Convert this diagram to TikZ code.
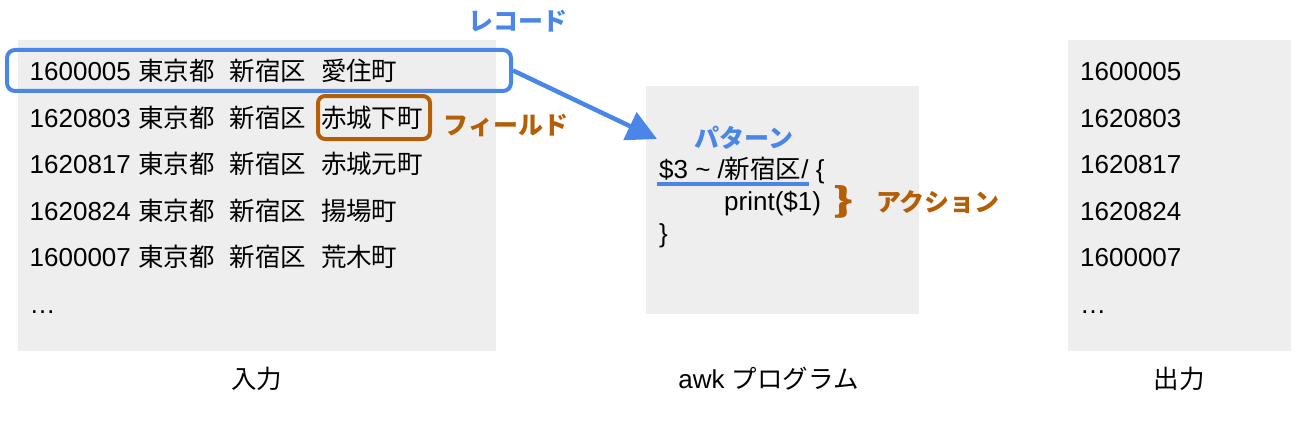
\documentclass[tikz,border=0pt]{standalone}
\usepackage{fontspec}
\setmainfont{Liberation Sans}
\newfontfamily\jp[Scale=0.98]{Noto Sans CJK JP}
\usetikzlibrary{arrows.meta, positioning}
\definecolor{recblue}{RGB}{74,134,232}
\definecolor{fieldbrown}{RGB}{180,95,6}
\definecolor{panelgray}{RGB}{238,238,238}
\newcommand{\ja}[1]{{\jp #1}}
\tikzset{
    panel/.style={rectangle, fill=panelgray, inner sep=0pt},
    rowtext/.style={anchor=base west, inner sep=0pt, font=\fontsize{26}{30}\selectfont},
    caption/.style={inner sep=0pt, font=\fontsize{26}{30}\selectfont},
    tag/.style={inner sep=0pt, font=\jp\bfseries\fontsize{25.5}{30}\selectfont},
    recbox/.style={rectangle, rounded corners=8pt, draw=recblue, line width=4pt, inner sep=0pt},
    fieldbox/.style={rectangle, rounded corners=7pt, draw=fieldbrown, line width=4pt, inner sep=0pt},
    flow/.style={-{Triangle[length=30pt, width=30pt]}, line width=4.5pt, recblue}
}

\begin{document}
\begin{tikzpicture}[x=1pt, y=-1pt]
    \useasboundingbox (0,0) rectangle (1307,436);

    % Panels
    \node[panel, minimum width=478pt, minimum height=311pt] (input) at (257,195.5) {};
    \node[panel, minimum width=273pt, minimum height=228pt] (prog) at (782.5,200) {};
    \node[panel, minimum width=223pt, minimum height=311pt] (output) at (1179.5,195.5) {};

    % Input records and output values
    \foreach \code/\town [count=\i] in {1600005/愛住町, 1620803/赤城下町, 1620817/赤城元町, 1620824/揚場町, 1600007/荒木町} {
        \node[rowtext] (in\i) at (29.5, {80.5+46.5*(\i-1)}) {\code\ \ja{東京都}\hspace{15pt}\ja{新宿区}\hspace{15pt}\ja{\town}};
        \node[rowtext] (out\i) at (1080, {80.5+46.5*(\i-1)}) {\code};
    }
    \node[rowtext] (in6) at (29.5,313) {…};
    \node[rowtext] (out6) at (1080,313) {…};

    % Record and field
    \node[recbox, minimum width=504pt, minimum height=41pt] (record) at (259,70.5) {};
    \node[fieldbox, minimum width=112pt, minimum height=43pt] (field) at (374,117.5) {};
    \node[tag, text=recblue] (recordlabel) at (518,21) {レコード};
    \node[tag, text=fieldbrown] (fieldlabel) at (506,125) {フィールド};

    % awk program
    \node[rowtext] (code1) at (659,178.5) {\$3 \textasciitilde\ /\ja{新宿区}/ \{};
    \node[rowtext] (code2) at (724,210) {print(\$1)};
    \node[rowtext] (code3) at (659,242) {\}};
    \coordinate (ulstart) at (657,184);
    \coordinate (ulend) at (809,184);
    \draw[recblue, line width=4.5pt] (ulstart) -- (ulend);
    \node[tag, text=recblue] (pattern) at (744,138) {パターン};
    \node[tag, text=fieldbrown, font=\jp\bfseries\fontsize{34}{34}\selectfont] (brace) at (843,202) {\scalebox{1.6}[1]{\}}};
    \node[tag, text=fieldbrown] (action) at (938,202) {アクション};

    % Arrow
    \coordinate (tip) at (657,139);
    \draw[flow] (record.east) -- (tip);

    % Captions
    \node[caption] (incap) at (256.5,379) {\ja{入力}};
    \node[caption] (progcap) at (768.5,379) {awk \ja{プログラム}};
    \node[caption] (outcap) at (1179,379) {\ja{出力}};
\end{tikzpicture}
\end{document}
